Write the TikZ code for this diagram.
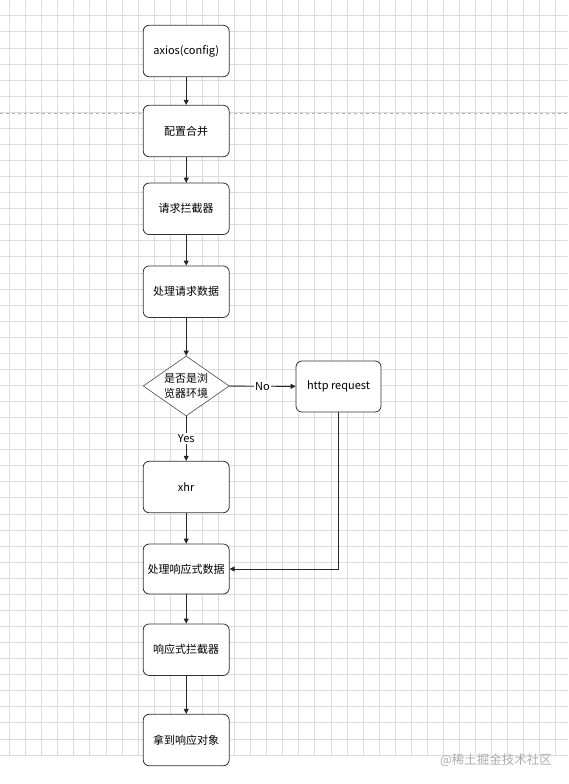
\documentclass[tikz,border=0pt]{standalone}
\usepackage{fontspec}
\setmainfont{Noto Sans CJK SC}
\usetikzlibrary{shapes.geometric, arrows.meta}

\begin{document}
\begin{tikzpicture}[x=1pt, y=-1pt,
    gridline/.style={draw=black!14, line width=0.8pt},
    box/.style={draw=black!80, fill=white, rounded corners=6pt, line width=0.8pt,
        minimum width=86pt, minimum height=51.5pt, font=\fontsize{11}{14}\selectfont},
    decision/.style={diamond, draw=black!70, fill=white, line width=0.6pt, inner sep=0pt,
        shape aspect=1.43, minimum width=86pt, minimum height=60pt, align=center,
        font=\fontsize{11}{14.5}\selectfont},
    arr/.style={-{Triangle[length=5pt,width=5pt]}, draw=black!85, line width=0.9pt},
    tag/.style={fill=white, inner sep=1pt, font=\fontsize{11}{13}\selectfont}]
            \useasboundingbox (0,0) rectangle (568,784);
            \fill[white] (0,0) rectangle (568,784);
            \foreach \i in {0,...,34}
                \draw[gridline] (9.5+16.07*\i,0) -- (9.5+16.07*\i,755);
            \foreach \j in {0,...,46}
                \draw[gridline] (0,755-16.07*\j) -- (568,755-16.07*\j);
            \draw[black!30, dashed, line width=0.8pt] (0,113) -- (568,113);

            \node[box] (axios) at (186.2,51) {axios(config)};
            \node[box] (merge) at (186.2,131) {配置合并};
            \node[box] (reqint) at (186.2,208.8) {请求拦截器};
            \node[box] (reqdata) at (186.2,291.7) {处理请求数据};
            \node[decision] (isbrowser) at (186.2,386) {是否是浏\\览器环境};
            \node[box, minimum width=85pt, minimum height=51pt] (http) at (338.5,386.5) {http request};
            \node[box] (xhr) at (186.2,487) {xhr};
            \node[box, minimum height=50pt] (resdata) at (186.2,569) {处理响应式数据};
            \node[box] (resint) at (186.2,649.7) {响应式拦截器};
            \node[box] (result) at (186.2,740) {拿到响应对象};

            \draw[arr] (axios) -- (merge);
            \draw[arr] (merge) -- (reqint);
            \draw[arr] (reqint) -- (reqdata);
            \draw[arr] (reqdata) -- (isbrowser);
            \draw[arr] (isbrowser) -- node[tag] (no) {No} (http);
            \draw[arr] (isbrowser) -- node[tag] (yes) {Yes} (xhr);
            \draw[arr] (xhr) -- (resdata);
            \draw[arr] (http) |- (resdata);
            \draw[arr] (resdata) -- (resint);
            \draw[arr] (resint) -- (result);

            \node[text=black!32, font=\fontsize{12.5}{14}\selectfont] (mark) at (496,760) {@稀土掘金技术社区};
        \end{tikzpicture}
\end{document}
